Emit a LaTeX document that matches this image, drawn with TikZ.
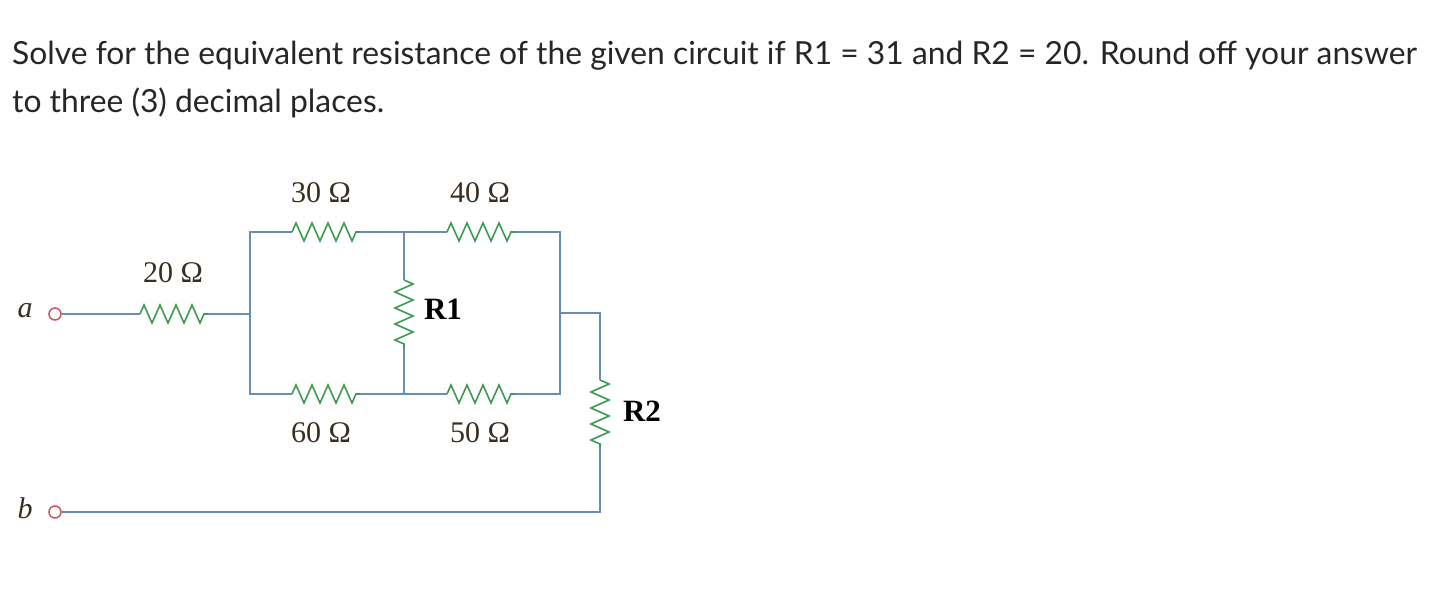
\documentclass[tikz,border=0pt]{standalone}
\usepackage{fontspec}
\setmainfont{Lato}
\newfontfamily\tms{Liberation Serif}
\begin{document}
\begin{tikzpicture}[x=1pt,y=-1pt,
  wire/.style={draw=wirec,line width=1.6pt},
  lbl/.style={font=\tms\fontsize{30}{30}\selectfont,text=lblc,inner sep=0pt},
  rl/.style={font=\tms\bfseries\fontsize{31}{31}\selectfont,text=black,inner sep=0pt},
  pics/res/.style={code={\draw[draw=resc,line width=1.6pt,line join=miter]
     (0,0)--(4,-9)--(12,9)--(20,-9)--(28,9)--(36,-9)--(44,9)--(52,-9)--(60,9)--(64,0)--(68,0);}}]
\definecolor{wirec}{HTML}{6A8DB5}
\definecolor{resc}{HTML}{3E9A55}
\definecolor{lblc}{HTML}{3A2E22}
\definecolor{termc}{HTML}{C8585A}
\useasboundingbox (0,0) rectangle (1438,604);
\node[anchor=base west,inner sep=0pt,font=\fontsize{31.8}{32}\selectfont,text=black!85] (q1) at (12,65) {Solve for the equivalent resistance of the given circuit if R1 = 31 and R2 = 20. Round off your answer};
\node[anchor=base west,inner sep=0pt,font=\fontsize{31.8}{32}\selectfont,text=black!85] (q2) at (12,113) {to three (3) decimal places.};
% coordinates
\coordinate (a) at (55,314);
\coordinate (b) at (55,512);
\coordinate (r20s) at (140,314);
\coordinate (r20e) at (208,314);
\coordinate (jl) at (250,314);
\coordinate (tl) at (250,232);
\coordinate (bl) at (250,394);
\coordinate (r30s) at (292,232);
\coordinate (r30e) at (360,232);
\coordinate (tm) at (404,232);
\coordinate (bm) at (404,394);
\coordinate (r40s) at (447,232);
\coordinate (r40e) at (515,232);
\coordinate (tr) at (560,232);
\coordinate (br) at (560,394);
\coordinate (r60s) at (292,394);
\coordinate (r60e) at (360,394);
\coordinate (r50s) at (447,394);
\coordinate (r50e) at (515,394);
\coordinate (r1s) at (404,280);
\coordinate (r1e) at (404,348);
\coordinate (jr) at (560,313);
\coordinate (tr2) at (600,313);
\coordinate (r2s) at (600,380);
\coordinate (r2e) at (600,448);
\coordinate (br2) at (600,512);
% wires
\draw[wire] (a) ++(7,0) -- (r20s);
\draw[wire] (r20e) -- (jl);
\draw[wire] (r30s) -- (tl) -- (bl) -- (r60s);
\draw[wire] (r30e) -- (tm) -- (r40s);
\draw[wire] (r60e) -- (bm) -- (r50s);
\draw[wire] (r40e) -- (tr) -- (br) -- (r50e);
\draw[wire] (tm) -- (r1s); \draw[wire] (r1e) -- (bm);
\draw[wire] (jr) -- (tr2) -- (r2s);
\draw[wire] (r2e) -- (br2) -- ([xshift=7pt]b);
% resistors
\pic at (r20s) {res}; \pic at (r30s) {res}; \pic at (r40s) {res};
\pic at (r60s) {res}; \pic at (r50s) {res};
\pic[rotate=-90] at (r1s) {res};
\pic[rotate=-90] at (r2s) {res};
% terminals
\draw[termc,line width=1.5pt,fill=white] (a) circle (6);
\draw[termc,line width=1.5pt,fill=white] (b) circle (6);
\node[font=\tms\itshape\fontsize{30}{30}\selectfont,text=lblc] (la) at (25,311) {a};
\node[font=\tms\itshape\fontsize{30}{30}\selectfont,text=lblc] (lb) at (25,508) {b};
% labels
\node[lbl] (l30) at (321,193) {30 Ω};
\node[lbl] (l40) at (480,193) {40 Ω};
\node[lbl] (l20) at (173,273) {20 Ω};
\node[lbl] (l60) at (321,433) {60 Ω};
\node[lbl] (l50) at (480,433) {50 Ω};
\node[rl] (lr1) at (443,309) {R1};
\node[rl] (lr2) at (642,411) {R2};
\end{tikzpicture}
\end{document}
